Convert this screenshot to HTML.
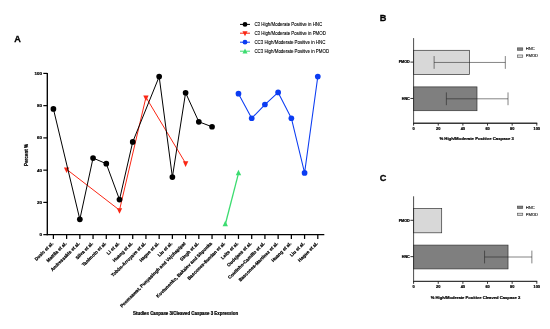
<!DOCTYPE html>
<html lang="en"><head><meta charset="utf-8"><title>Caspase 3 / Cleaved Caspase 3 expression</title>
<style>html,body{margin:0;padding:0;background:#fff;}body{width:550px;height:329px;overflow:hidden;font-family:"Liberation Sans",Arial,sans-serif;}svg{display:block;filter:blur(0.3px)}</style>
</head><body>
<svg width="550" height="329" viewBox="0 0 550 329" fill="#000">
<g id="panelA">
<path d="M47.3 72.90V235.25" stroke="#000" stroke-width="1.35" fill="none"/>
<path d="M46.70 234.65H324.3" stroke="#000" stroke-width="1.35" fill="none"/>
<path d="M43.30 234.65H47.3" stroke="#000" stroke-width="1.2"/>
<text x="41.90" y="236.20" text-anchor="end" font-size="4.38" font-weight="bold" stroke="#000" stroke-width="0.22" font-family="Liberation Sans, Arial, sans-serif">0</text>
<path d="M43.30 202.40H47.3" stroke="#000" stroke-width="1.2"/>
<text x="41.90" y="203.95" text-anchor="end" font-size="4.38" font-weight="bold" stroke="#000" stroke-width="0.22" font-family="Liberation Sans, Arial, sans-serif">20</text>
<path d="M43.30 170.15H47.3" stroke="#000" stroke-width="1.2"/>
<text x="41.90" y="171.70" text-anchor="end" font-size="4.38" font-weight="bold" stroke="#000" stroke-width="0.22" font-family="Liberation Sans, Arial, sans-serif">40</text>
<path d="M43.30 137.90H47.3" stroke="#000" stroke-width="1.2"/>
<text x="41.90" y="139.45" text-anchor="end" font-size="4.38" font-weight="bold" stroke="#000" stroke-width="0.22" font-family="Liberation Sans, Arial, sans-serif">60</text>
<path d="M43.30 105.65H47.3" stroke="#000" stroke-width="1.2"/>
<text x="41.90" y="107.20" text-anchor="end" font-size="4.38" font-weight="bold" stroke="#000" stroke-width="0.22" font-family="Liberation Sans, Arial, sans-serif">80</text>
<path d="M43.30 73.40H47.3" stroke="#000" stroke-width="1.2"/>
<text x="41.90" y="74.95" text-anchor="end" font-size="4.38" font-weight="bold" stroke="#000" stroke-width="0.22" font-family="Liberation Sans, Arial, sans-serif">100</text>
<path d="M53.40 234.65V238.95" stroke="#000" stroke-width="1.25"/>
<path d="M66.62 234.65V238.95" stroke="#000" stroke-width="1.25"/>
<path d="M79.84 234.65V238.95" stroke="#000" stroke-width="1.25"/>
<path d="M93.06 234.65V238.95" stroke="#000" stroke-width="1.25"/>
<path d="M106.28 234.65V238.95" stroke="#000" stroke-width="1.25"/>
<path d="M119.50 234.65V238.95" stroke="#000" stroke-width="1.25"/>
<path d="M132.72 234.65V238.95" stroke="#000" stroke-width="1.25"/>
<path d="M145.94 234.65V238.95" stroke="#000" stroke-width="1.25"/>
<path d="M159.16 234.65V238.95" stroke="#000" stroke-width="1.25"/>
<path d="M172.38 234.65V238.95" stroke="#000" stroke-width="1.25"/>
<path d="M185.60 234.65V238.95" stroke="#000" stroke-width="1.25"/>
<path d="M198.82 234.65V238.95" stroke="#000" stroke-width="1.25"/>
<path d="M212.04 234.65V238.95" stroke="#000" stroke-width="1.25"/>
<path d="M225.26 234.65V238.95" stroke="#000" stroke-width="1.25"/>
<path d="M238.48 234.65V238.95" stroke="#000" stroke-width="1.25"/>
<path d="M251.70 234.65V238.95" stroke="#000" stroke-width="1.25"/>
<path d="M264.92 234.65V238.95" stroke="#000" stroke-width="1.25"/>
<path d="M278.14 234.65V238.95" stroke="#000" stroke-width="1.25"/>
<path d="M291.36 234.65V238.95" stroke="#000" stroke-width="1.25"/>
<path d="M304.58 234.65V238.95" stroke="#000" stroke-width="1.25"/>
<path d="M317.80 234.65V238.95" stroke="#000" stroke-width="1.25"/>
<text transform="translate(52.50 242.80) rotate(-45)" x="0" y="1.6" text-anchor="end" font-size="4.6" font-weight="bold" stroke="#000" stroke-width="0.22" font-family="Liberation Sans, Arial, sans-serif">Dosic et al.</text>
<text transform="translate(65.72 242.80) rotate(-45)" x="0" y="1.6" text-anchor="end" font-size="4.6" font-weight="bold" stroke="#000" stroke-width="0.22" font-family="Liberation Sans, Arial, sans-serif">Mattila et al.</text>
<text transform="translate(78.94 242.80) rotate(-45)" x="0" y="1.6" text-anchor="end" font-size="4.6" font-weight="bold" stroke="#000" stroke-width="0.22" font-family="Liberation Sans, Arial, sans-serif">Andressakis et al.</text>
<text transform="translate(92.16 242.80) rotate(-45)" x="0" y="1.6" text-anchor="end" font-size="4.6" font-weight="bold" stroke="#000" stroke-width="0.22" font-family="Liberation Sans, Arial, sans-serif">Silva et al.</text>
<text transform="translate(105.38 242.80) rotate(-45)" x="0" y="1.6" text-anchor="end" font-size="4.6" font-weight="bold" stroke="#000" stroke-width="0.22" font-family="Liberation Sans, Arial, sans-serif">Tanimoto et al.</text>
<text transform="translate(118.60 242.80) rotate(-45)" x="0" y="1.6" text-anchor="end" font-size="4.6" font-weight="bold" stroke="#000" stroke-width="0.22" font-family="Liberation Sans, Arial, sans-serif">Li et al.</text>
<text transform="translate(131.82 242.80) rotate(-45)" x="0" y="1.6" text-anchor="end" font-size="4.6" font-weight="bold" stroke="#000" stroke-width="0.22" font-family="Liberation Sans, Arial, sans-serif">Huang et al.</text>
<text transform="translate(145.04 242.80) rotate(-45)" x="0" y="1.6" text-anchor="end" font-size="4.6" font-weight="bold" stroke="#000" stroke-width="0.22" font-family="Liberation Sans, Arial, sans-serif">Tobón-Arroyave et al.</text>
<text transform="translate(158.26 242.80) rotate(-45)" x="0" y="1.6" text-anchor="end" font-size="4.6" font-weight="bold" stroke="#000" stroke-width="0.22" font-family="Liberation Sans, Arial, sans-serif">Hague et al.</text>
<text transform="translate(171.48 242.80) rotate(-45)" x="0" y="1.6" text-anchor="end" font-size="4.6" font-weight="bold" stroke="#000" stroke-width="0.22" font-family="Liberation Sans, Arial, sans-serif">Liu et al.</text>
<text transform="translate(184.70 242.80) rotate(-45)" x="0" y="1.6" text-anchor="end" font-size="4.6" font-weight="bold" stroke="#000" stroke-width="0.22" font-family="Liberation Sans, Arial, sans-serif">Poomsawat, Punyasingh and Vejchapipat</text>
<text transform="translate(197.92 242.80) rotate(-45)" x="0" y="1.6" text-anchor="end" font-size="4.6" font-weight="bold" stroke="#000" stroke-width="0.22" font-family="Liberation Sans, Arial, sans-serif">Singh et al.</text>
<text transform="translate(211.14 242.80) rotate(-45)" x="0" y="1.6" text-anchor="end" font-size="4.6" font-weight="bold" stroke="#000" stroke-width="0.22" font-family="Liberation Sans, Arial, sans-serif">Kovtunenko, Bakaiev and Shponka</text>
<text transform="translate(224.36 242.80) rotate(-45)" x="0" y="1.6" text-anchor="end" font-size="4.6" font-weight="bold" stroke="#000" stroke-width="0.22" font-family="Liberation Sans, Arial, sans-serif">Bascones-Ilundan et al.</text>
<text transform="translate(237.58 242.80) rotate(-45)" x="0" y="1.6" text-anchor="end" font-size="4.6" font-weight="bold" stroke="#000" stroke-width="0.22" font-family="Liberation Sans, Arial, sans-serif">Leite et al.</text>
<text transform="translate(250.80 242.80) rotate(-45)" x="0" y="1.6" text-anchor="end" font-size="4.6" font-weight="bold" stroke="#000" stroke-width="0.22" font-family="Liberation Sans, Arial, sans-serif">Oudejans et al.</text>
<text transform="translate(264.02 242.80) rotate(-45)" x="0" y="1.6" text-anchor="end" font-size="4.6" font-weight="bold" stroke="#000" stroke-width="0.22" font-family="Liberation Sans, Arial, sans-serif">Coutinho-Camillo et al.</text>
<text transform="translate(277.24 242.80) rotate(-45)" x="0" y="1.6" text-anchor="end" font-size="4.6" font-weight="bold" stroke="#000" stroke-width="0.22" font-family="Liberation Sans, Arial, sans-serif">Bascones-Martinez et al.</text>
<text transform="translate(290.46 242.80) rotate(-45)" x="0" y="1.6" text-anchor="end" font-size="4.6" font-weight="bold" stroke="#000" stroke-width="0.22" font-family="Liberation Sans, Arial, sans-serif">Huang et al.</text>
<text transform="translate(303.68 242.80) rotate(-45)" x="0" y="1.6" text-anchor="end" font-size="4.6" font-weight="bold" stroke="#000" stroke-width="0.22" font-family="Liberation Sans, Arial, sans-serif">Liu et al.</text>
<text transform="translate(316.90 242.80) rotate(-45)" x="0" y="1.6" text-anchor="end" font-size="4.6" font-weight="bold" stroke="#000" stroke-width="0.22" font-family="Liberation Sans, Arial, sans-serif">Hague et al.</text>
<text transform="translate(28.3 155) rotate(-90)" text-anchor="middle" font-size="4.55" font-weight="bold" stroke="#000" stroke-width="0.22" font-family="Liberation Sans, Arial, sans-serif">Percent %</text>
<text x="185.6" y="314.6" text-anchor="middle" font-size="4.41" font-weight="bold" stroke="#000" stroke-width="0.22" font-family="Liberation Sans, Arial, sans-serif">Studies Caspase 3/Cleaved Caspase 3 Expression</text>
<path d="M66.62 169.34L119.50 210.14L145.94 97.26L185.60 163.22" stroke="#fa2614" stroke-width="1.0" fill="none" stroke-linejoin="round"/>
<path d="M66.62 173.08L69.32 167.48H63.92Z" fill="#fa2614"/>
<path d="M119.50 213.87L122.20 208.27H116.80Z" fill="#fa2614"/>
<path d="M145.94 101.00L148.64 95.40H143.24Z" fill="#fa2614"/>
<path d="M185.60 166.95L188.30 161.35H182.90Z" fill="#fa2614"/>
<path d="M53.40 108.88L79.84 219.33L93.06 158.06L106.28 163.70L119.50 199.58L132.72 141.93L159.16 76.62L172.38 177.08L185.60 92.75L198.82 121.78L212.04 126.77" stroke="#000" stroke-width="1.0" fill="none" stroke-linejoin="round"/>
<circle cx="53.40" cy="108.88" r="2.85" fill="#000"/>
<circle cx="79.84" cy="219.33" r="2.85" fill="#000"/>
<circle cx="93.06" cy="158.06" r="2.85" fill="#000"/>
<circle cx="106.28" cy="163.70" r="2.85" fill="#000"/>
<circle cx="119.50" cy="199.58" r="2.85" fill="#000"/>
<circle cx="132.72" cy="141.93" r="2.85" fill="#000"/>
<circle cx="159.16" cy="76.62" r="2.85" fill="#000"/>
<circle cx="172.38" cy="177.08" r="2.85" fill="#000"/>
<circle cx="185.60" cy="92.75" r="2.85" fill="#000"/>
<circle cx="198.82" cy="121.78" r="2.85" fill="#000"/>
<circle cx="212.04" cy="126.77" r="2.85" fill="#000"/>
<path d="M225.26 224.49L238.48 173.38" stroke="#3cdc70" stroke-width="1.3" fill="none" stroke-linejoin="round"/>
<path d="M225.26 220.76L227.96 226.36H222.56Z" fill="#3cdc70"/>
<path d="M238.48 169.64L241.18 175.24H235.78Z" fill="#3cdc70"/>
<path d="M238.48 93.72L251.70 118.23L264.92 104.52L278.14 92.43L291.36 118.23L304.58 172.89L317.80 76.62" stroke="#0b3cf2" stroke-width="1.05" fill="none" stroke-linejoin="round"/>
<circle cx="238.48" cy="93.72" r="2.85" fill="#0b3cf2"/>
<circle cx="251.70" cy="118.23" r="2.85" fill="#0b3cf2"/>
<circle cx="264.92" cy="104.52" r="2.85" fill="#0b3cf2"/>
<circle cx="278.14" cy="92.43" r="2.85" fill="#0b3cf2"/>
<circle cx="291.36" cy="118.23" r="2.85" fill="#0b3cf2"/>
<circle cx="304.58" cy="172.89" r="2.85" fill="#0b3cf2"/>
<circle cx="317.80" cy="76.62" r="2.85" fill="#0b3cf2"/>
<path d="M240 24.4H250" stroke="#000" stroke-width="1"/>
<circle cx="245.00" cy="24.40" r="2.4" fill="#000"/>
<text x="254.4" y="26.00" font-size="4.42" stroke="#000" stroke-width="0.1" font-family="Liberation Sans, Arial, sans-serif">C3 High/Moderate Positive in HNC</text>
<path d="M240 33.2H250" stroke="#fa2614" stroke-width="1"/>
<path d="M245.00 36.13L247.55 31.13H242.45Z" fill="#fa2614"/>
<text x="254.4" y="34.80" font-size="4.42" stroke="#000" stroke-width="0.1" font-family="Liberation Sans, Arial, sans-serif">C3 High/Moderate Positive in PMOD</text>
<path d="M240 42.2H250" stroke="#0b3cf2" stroke-width="1"/>
<circle cx="245.00" cy="42.20" r="2.4" fill="#0b3cf2"/>
<text x="254.4" y="43.80" font-size="4.42" stroke="#000" stroke-width="0.1" font-family="Liberation Sans, Arial, sans-serif">CC3 High/Moderate Positive in HNC</text>
<path d="M240 51.2H250" stroke="#3cdc70" stroke-width="1"/>
<path d="M245.00 48.47L247.50 53.47H242.50Z" fill="#3cdc70"/>
<text x="254.4" y="52.80" font-size="4.42" stroke="#000" stroke-width="0.1" font-family="Liberation Sans, Arial, sans-serif">CC3 High/Moderate Positive in PMOD</text>
<text x="14.15" y="42.3" font-size="9.1" font-weight="bold" stroke="#000" stroke-width="0.3" font-family="Liberation Sans, Arial, sans-serif">A</text>
</g>
<g id="panelB">
<text x="379.8" y="20.65" font-size="9.2" font-weight="bold" stroke="#000" stroke-width="0.3" font-family="Liberation Sans, Arial, sans-serif">B</text>
<rect x="413.6" y="50.30" width="55.75" height="24.30" fill="#d8d8d8" stroke="#333" stroke-width="0.7"/>
<rect x="413.6" y="86.90" width="63.39" height="23.80" fill="#7f7f7f" stroke="#333" stroke-width="0.7"/>
<path d="M434.11 62.45H505.32M434.11 56.05V68.85M505.32 56.05V68.85" stroke="#1e1e1e" stroke-width="0.55" fill="none"/>
<path d="M446.37 98.80H508.03M446.37 92.40V105.20M508.03 92.40V105.20" stroke="#1e1e1e" stroke-width="0.55" fill="none"/>
<path d="M413.6 38.1V123.70" stroke="#2c2c2c" stroke-width="0.85" fill="none"/>
<path d="M413.15 123.19999999999999H537.25" stroke="#383838" stroke-width="1.35" fill="none"/>
<path d="M413.60 123.19999999999999V125.60" stroke="#1a1a1a" stroke-width="0.9"/>
<text x="413.60" y="130.00" text-anchor="middle" font-size="3.85" font-weight="bold" stroke="#000" stroke-width="0.22" font-family="Liberation Sans, Arial, sans-serif">0</text>
<path d="M438.24 123.19999999999999V125.60" stroke="#1a1a1a" stroke-width="0.9"/>
<text x="438.24" y="130.00" text-anchor="middle" font-size="3.85" font-weight="bold" stroke="#000" stroke-width="0.22" font-family="Liberation Sans, Arial, sans-serif">20</text>
<path d="M462.88 123.19999999999999V125.60" stroke="#1a1a1a" stroke-width="0.9"/>
<text x="462.88" y="130.00" text-anchor="middle" font-size="3.85" font-weight="bold" stroke="#000" stroke-width="0.22" font-family="Liberation Sans, Arial, sans-serif">40</text>
<path d="M487.52 123.19999999999999V125.60" stroke="#1a1a1a" stroke-width="0.9"/>
<text x="487.52" y="130.00" text-anchor="middle" font-size="3.85" font-weight="bold" stroke="#000" stroke-width="0.22" font-family="Liberation Sans, Arial, sans-serif">60</text>
<path d="M512.16 123.19999999999999V125.60" stroke="#1a1a1a" stroke-width="0.9"/>
<text x="512.16" y="130.00" text-anchor="middle" font-size="3.85" font-weight="bold" stroke="#000" stroke-width="0.22" font-family="Liberation Sans, Arial, sans-serif">80</text>
<path d="M536.80 123.19999999999999V125.60" stroke="#1a1a1a" stroke-width="0.9"/>
<text x="536.80" y="130.00" text-anchor="middle" font-size="3.85" font-weight="bold" stroke="#000" stroke-width="0.22" font-family="Liberation Sans, Arial, sans-serif">100</text>
<path d="M410.40 62.10H413.6" stroke="#1a1a1a" stroke-width="0.9"/>
<text x="409.80" y="63.40" text-anchor="end" font-size="3.72" font-weight="bold" stroke="#000" stroke-width="0.22" font-family="Liberation Sans, Arial, sans-serif">PMOD</text>
<path d="M410.40 98.45H413.6" stroke="#1a1a1a" stroke-width="0.9"/>
<text x="409.80" y="99.75" text-anchor="end" font-size="3.72" font-weight="bold" stroke="#000" stroke-width="0.22" font-family="Liberation Sans, Arial, sans-serif">HNC</text>
<text x="476.60" y="140.40" text-anchor="middle" font-size="4.28" font-weight="bold" stroke="#000" stroke-width="0.22" font-family="Liberation Sans, Arial, sans-serif">% High/Moderate Positive Caspase 3</text>
<rect x="517.3" y="47.85" width="5.5" height="2.5" fill="#7f7f7f" stroke="#3a3a3a" stroke-width="0.5"/>
<rect x="517.3" y="54.95" width="5.5" height="2.5" fill="#d8d8d8" stroke="#3a3a3a" stroke-width="0.5"/>
<text x="525.7" y="50.30" font-size="4.15" stroke="#000" stroke-width="0.1" font-family="Liberation Sans, Arial, sans-serif">HNC</text>
<text x="525.7" y="57.30" font-size="4.15" stroke="#000" stroke-width="0.1" font-family="Liberation Sans, Arial, sans-serif">PMOD</text>
</g>
<g id="panelC">
<text x="379.8" y="180.7" font-size="9.2" font-weight="bold" stroke="#000" stroke-width="0.3" font-family="Liberation Sans, Arial, sans-serif">C</text>
<rect x="413.6" y="208.50" width="28.09" height="24.30" fill="#d8d8d8" stroke="#333" stroke-width="0.7"/>
<rect x="413.6" y="245.10" width="94.43" height="23.80" fill="#7f7f7f" stroke="#333" stroke-width="0.7"/>
<path d="M484.56 257.00H531.87M484.56 250.60V263.40M531.87 250.60V263.40" stroke="#1e1e1e" stroke-width="0.55" fill="none"/>
<path d="M413.6 196.3V281.90" stroke="#2c2c2c" stroke-width="0.85" fill="none"/>
<path d="M413.15 281.4H537.25" stroke="#383838" stroke-width="1.35" fill="none"/>
<path d="M413.60 281.4V283.80" stroke="#1a1a1a" stroke-width="0.9"/>
<text x="413.60" y="288.20" text-anchor="middle" font-size="3.85" font-weight="bold" stroke="#000" stroke-width="0.22" font-family="Liberation Sans, Arial, sans-serif">0</text>
<path d="M438.24 281.4V283.80" stroke="#1a1a1a" stroke-width="0.9"/>
<text x="438.24" y="288.20" text-anchor="middle" font-size="3.85" font-weight="bold" stroke="#000" stroke-width="0.22" font-family="Liberation Sans, Arial, sans-serif">20</text>
<path d="M462.88 281.4V283.80" stroke="#1a1a1a" stroke-width="0.9"/>
<text x="462.88" y="288.20" text-anchor="middle" font-size="3.85" font-weight="bold" stroke="#000" stroke-width="0.22" font-family="Liberation Sans, Arial, sans-serif">40</text>
<path d="M487.52 281.4V283.80" stroke="#1a1a1a" stroke-width="0.9"/>
<text x="487.52" y="288.20" text-anchor="middle" font-size="3.85" font-weight="bold" stroke="#000" stroke-width="0.22" font-family="Liberation Sans, Arial, sans-serif">60</text>
<path d="M512.16 281.4V283.80" stroke="#1a1a1a" stroke-width="0.9"/>
<text x="512.16" y="288.20" text-anchor="middle" font-size="3.85" font-weight="bold" stroke="#000" stroke-width="0.22" font-family="Liberation Sans, Arial, sans-serif">80</text>
<path d="M536.80 281.4V283.80" stroke="#1a1a1a" stroke-width="0.9"/>
<text x="536.80" y="288.20" text-anchor="middle" font-size="3.85" font-weight="bold" stroke="#000" stroke-width="0.22" font-family="Liberation Sans, Arial, sans-serif">100</text>
<path d="M410.40 220.30H413.6" stroke="#1a1a1a" stroke-width="0.9"/>
<text x="409.80" y="221.60" text-anchor="end" font-size="3.72" font-weight="bold" stroke="#000" stroke-width="0.22" font-family="Liberation Sans, Arial, sans-serif">PMOD</text>
<path d="M410.40 256.65H413.6" stroke="#1a1a1a" stroke-width="0.9"/>
<text x="409.80" y="257.95" text-anchor="end" font-size="3.72" font-weight="bold" stroke="#000" stroke-width="0.22" font-family="Liberation Sans, Arial, sans-serif">HNC</text>
<text x="475.50" y="298.60" text-anchor="middle" font-size="4.16" font-weight="bold" stroke="#000" stroke-width="0.22" font-family="Liberation Sans, Arial, sans-serif">% High/Moderate Positive Cleaved Caspase 3</text>
<rect x="517.3" y="206.05" width="5.5" height="2.5" fill="#7f7f7f" stroke="#3a3a3a" stroke-width="0.5"/>
<rect x="517.3" y="213.15" width="5.5" height="2.5" fill="#d8d8d8" stroke="#3a3a3a" stroke-width="0.5"/>
<text x="525.7" y="208.50" font-size="4.15" stroke="#000" stroke-width="0.1" font-family="Liberation Sans, Arial, sans-serif">HNC</text>
<text x="525.7" y="215.50" font-size="4.15" stroke="#000" stroke-width="0.1" font-family="Liberation Sans, Arial, sans-serif">PMOD</text>
</g>
</svg>
</body></html>
